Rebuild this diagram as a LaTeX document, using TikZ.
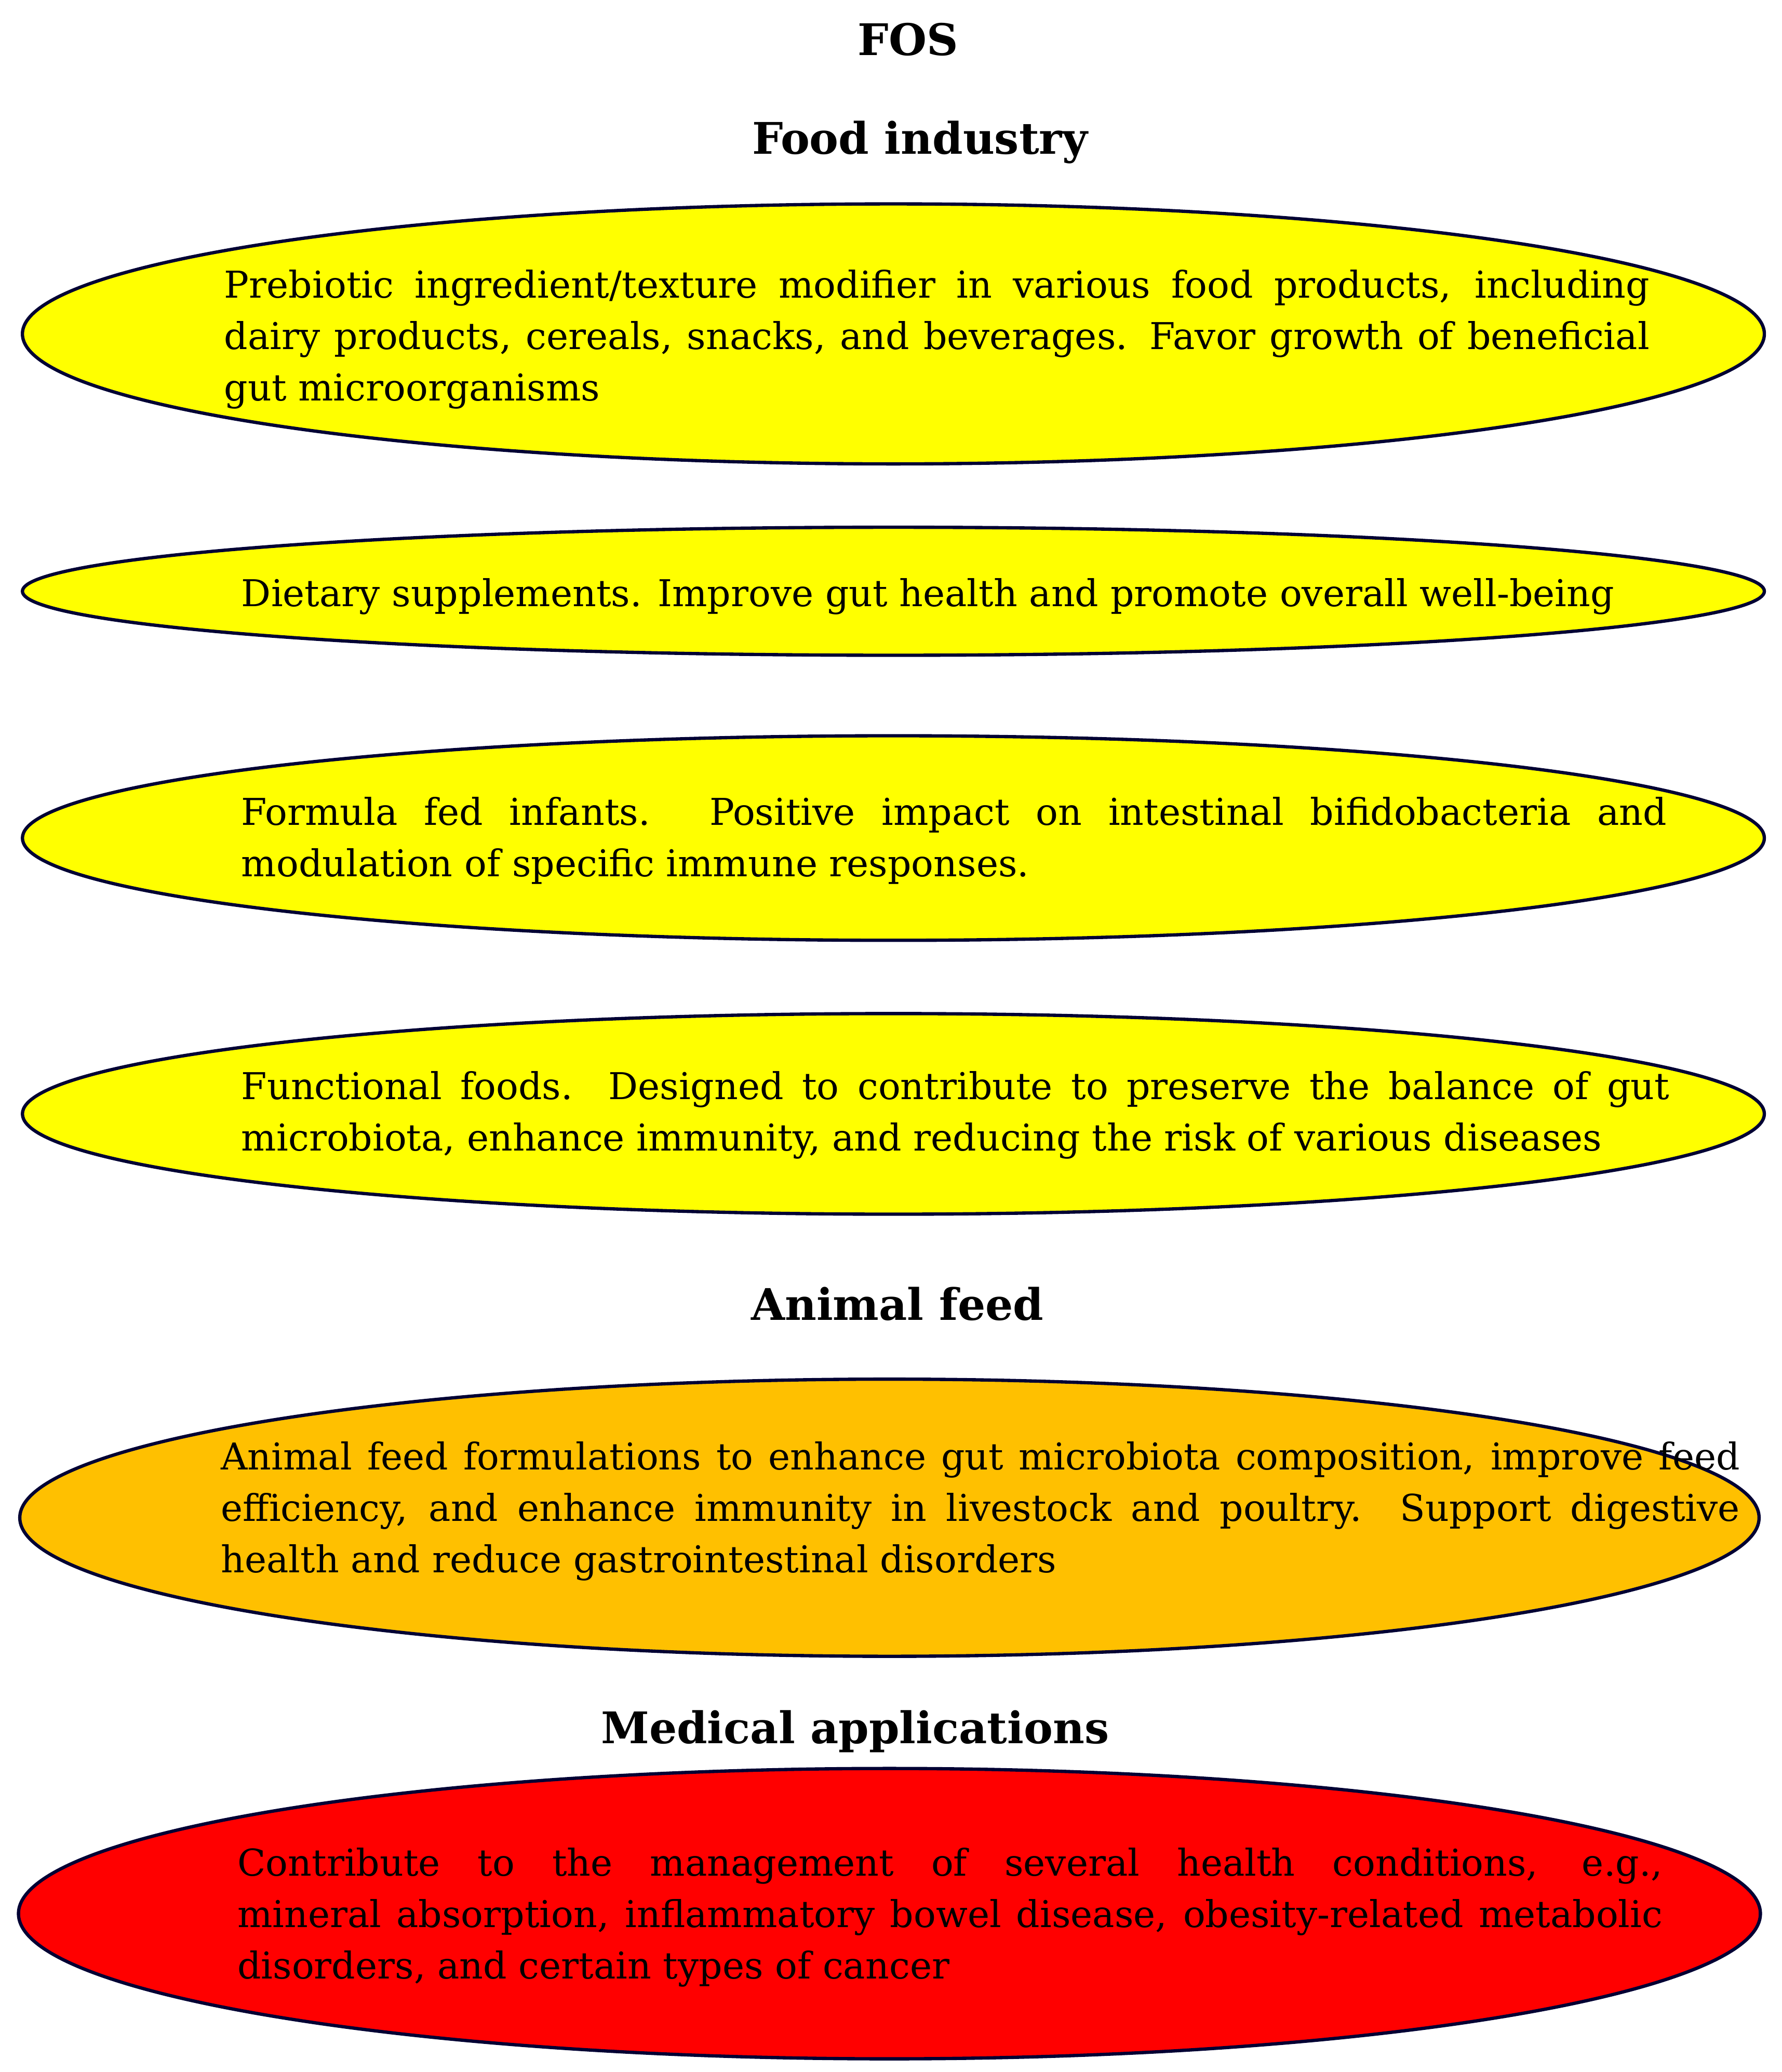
\documentclass[tikz,border=0pt]{standalone}
\usepackage{fontspec}
\setmainfont{DejaVu Serif}
\usetikzlibrary{shapes.geometric}
\definecolor{yel}{RGB}{255,255,0}
\definecolor{org}{RGB}{255,192,0}
\definecolor{rd}{RGB}{255,0,0}
\begin{document}
\hyphenpenalty=10000
\exhyphenpenalty=10000
\begin{tikzpicture}[x=1pt,y=1pt,
  ell/.style={ellipse, draw=black!80!blue, line width=2.5pt, inner sep=0pt},
  txt/.style={align=justify, font=\fontsize{28}{39}\selectfont, inner sep=0pt},
  ttl/.style={font=\fontsize{33}{40}\selectfont\bfseries}]
\useasboundingbox (0,0) rectangle (1350,-1570);
\node[ttl] (fos) at (688,-30) {FOS};
\node[ttl] (food) at (697,-108) {Food industry};
\node[ell, fill=yel, minimum width=1320, minimum height=197] (e1) at (677,-253) {};
\node[txt, text width=1080] (t1) at (710,-257) {Prebiotic ingredient/texture modifier in various food products, including dairy products, cereals, snacks, and beverages. Favor growth of beneficial gut microorganisms};
\node[ell, fill=yel, minimum width=1320, minimum height=97] (e2) at (677,-448) {};
\node[txt, text width=1080] (t2) at (723,-452) {Dietary supplements. Improve gut health and promote overall well-being};
\node[ell, fill=yel, minimum width=1320, minimum height=155] (e3) at (677,-635) {};
\node[txt, text width=1080] (t3) at (723,-637) {Formula fed infants. Positive impact on intestinal bifidobacteria and modulation of specific immune responses.};
\node[ell, fill=yel, minimum width=1320, minimum height=152] (e4) at (677,-844) {};
\node[txt, text width=1082] (t4) at (724,-845) {Functional foods. Designed to contribute to preserve the balance of gut microbiota, enhance immunity, and reducing the risk of various diseases};
\node[ttl] (animal) at (680,-988) {Animal feed};
\node[ell, fill=org, minimum width=1318, minimum height=210] (e5) at (674,-1150) {};
\node[txt, text width=1151] (t5) at (743,-1145) {Animal feed formulations to enhance gut microbiota composition, improve feed efficiency, and enhance immunity in livestock and poultry. Support digestive health and reduce gastrointestinal disorders};
\node[ttl] (med) at (648,-1312) {Medical applications};
\node[ell, fill=rd, minimum width=1320, minimum height=220] (e6) at (674,-1450) {};
\node[txt, text width=1080] (t6) at (720,-1453) {Contribute to the management of several health conditions, e.g., mineral absorption, inflammatory bowel disease, obesity-related metabolic disorders, and certain types of cancer};
\end{tikzpicture}
\end{document}
